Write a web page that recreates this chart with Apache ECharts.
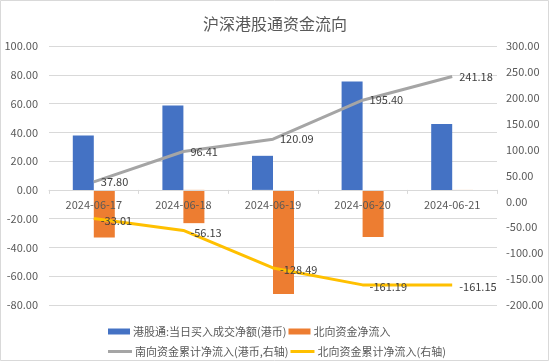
<!DOCTYPE html>
<html>
<head>
<meta charset="utf-8">
<script src="https://cdn.jsdelivr.net/npm/echarts@6/dist/echarts.min.js"></script>
<style>
html,body{margin:0;padding:0;background:#fff;}
#c{width:550px;height:363px;}
</style>
</head>
<body>
<div id="c"></div>
<script>
const categories = ['2024-06-17','2024-06-18','2024-06-19','2024-06-20','2024-06-21'];
const southDaily = [37.80, 58.61, 23.68, 75.31, 45.78];
const northDaily = [-33.01, -23.12, -72.36, -32.70, 0.04];
const southCum = [37.80, 96.41, 120.09, 195.40, 241.18];
const northCum = [-33.01, -56.13, -128.49, -161.19, -161.15];
const leftTicks = {min: -80, max: 100, interval: 20};
const rightTicks = {min: -200, max: 300, interval: 50};
const names = ['港股通:当日买入成交净额(港币)', '北向资金净流入', '南向资金累计净流入(港币,右轴)', '北向资金累计净流入(右轴)'];

const FONT = '"Noto Sans CJK SC", "Liberation Sans", sans-serif';
const gridTop = 46, gridBottom = 58, H = 363;
const plotH = H - gridTop - gridBottom;
// distance from bottom of plot to the zero line of the left axis
const zeroFromBottom = plotH * (0 - leftTicks.min) / (leftTicks.max - leftTicks.min);

const chart = echarts.init(document.getElementById('c'));
const lbl = {show: true, position: 'right', distance: 7, color: '#404040', fontSize: 11, fontFamily: FONT,
  formatter: p => p.value.toFixed(2)};
chart.setOption({
  animation: false,
  backgroundColor: '#fff',
  textStyle: {fontFamily: FONT},
  title: {text: '沪深港股通资金流向', left: 'center', top: 11,
    textStyle: {fontSize: 16, fontWeight: 'normal', color: '#595959', fontFamily: FONT}},
  graphic: [{type: 'rect', shape: {x: 0.5, y: 0.5, width: 548, height: 360}, style: {fill: null, stroke: '#D9D9D9', lineWidth: 1}, silent: true}],
  grid: {left: 49, right: 53, top: gridTop, bottom: gridBottom, containLabel: false},
  legend: [
    {data: [{name: names[0], icon: 'rect'}, {name: names[1], icon: 'rect'}], left: 103, top: 321, itemWidth: 22, itemHeight: 6, itemGap: 2,
      textStyle: {fontSize: 11, color: '#595959', fontFamily: FONT, padding: [0,0,0,-2]}},
    {data: [{name: names[2], icon: 'rect'}, {name: names[3], icon: 'rect'}], left: 103, top: 341, itemWidth: 24, itemHeight: 3, itemGap: 2,
      textStyle: {fontSize: 11, color: '#595959', fontFamily: FONT, padding: [0,0,0,-2]}}
  ],
  xAxis: {type: 'category', data: categories, position: 'bottom', offset: -zeroFromBottom,
    axisLine: {onZero: false, lineStyle: {color: '#D9D9D9'}},
    axisTick: {show: true, length: 4, lineStyle: {color: '#D9D9D9'}},
    axisLabel: {color: '#595959', fontSize: 11, margin: 9, fontFamily: FONT},
    z: 10},
  yAxis: [
    {type: 'value', min: leftTicks.min, max: leftTicks.max, interval: leftTicks.interval,
      axisLabel: {color: '#595959', fontSize: 11, margin: 11, formatter: v => v.toFixed(2), fontFamily: FONT},
      splitLine: {lineStyle: {color: '#D9D9D9'}}, axisLine: {show: false}, axisTick: {show: false}},
    {type: 'value', min: rightTicks.min, max: rightTicks.max, interval: rightTicks.interval, position: 'right',
      axisLabel: {color: '#595959', fontSize: 11, margin: 9, formatter: v => v.toFixed(2), fontFamily: FONT},
      splitLine: {show: false}, axisLine: {show: false}, axisTick: {show: false}}
  ],
  series: [
    {name: names[0], type: 'bar', data: southDaily, barWidth: 21, barGap: '0%', itemStyle: {color: '#4472C4'}, yAxisIndex: 0},
    {name: names[1], type: 'bar', data: northDaily, barWidth: 21, barGap: '0%', itemStyle: {color: '#ED7D31'}, yAxisIndex: 0},
    {name: names[2], type: 'line', data: southCum, yAxisIndex: 1, showSymbol: true, symbol: 'circle', symbolSize: 0.01,
      lineStyle: {color: '#A5A5A5', width: 3}, itemStyle: {color: '#A5A5A5'}, label: lbl, z: 5},
    {name: names[3], type: 'line', data: northCum, yAxisIndex: 1, showSymbol: true, symbol: 'circle', symbolSize: 0.01,
      lineStyle: {color: '#FFC000', width: 3}, itemStyle: {color: '#FFC000'}, label: Object.assign({}, lbl, {offset: [0, 2]}), z: 5}
  ]
});
</script>
</body>
</html>
